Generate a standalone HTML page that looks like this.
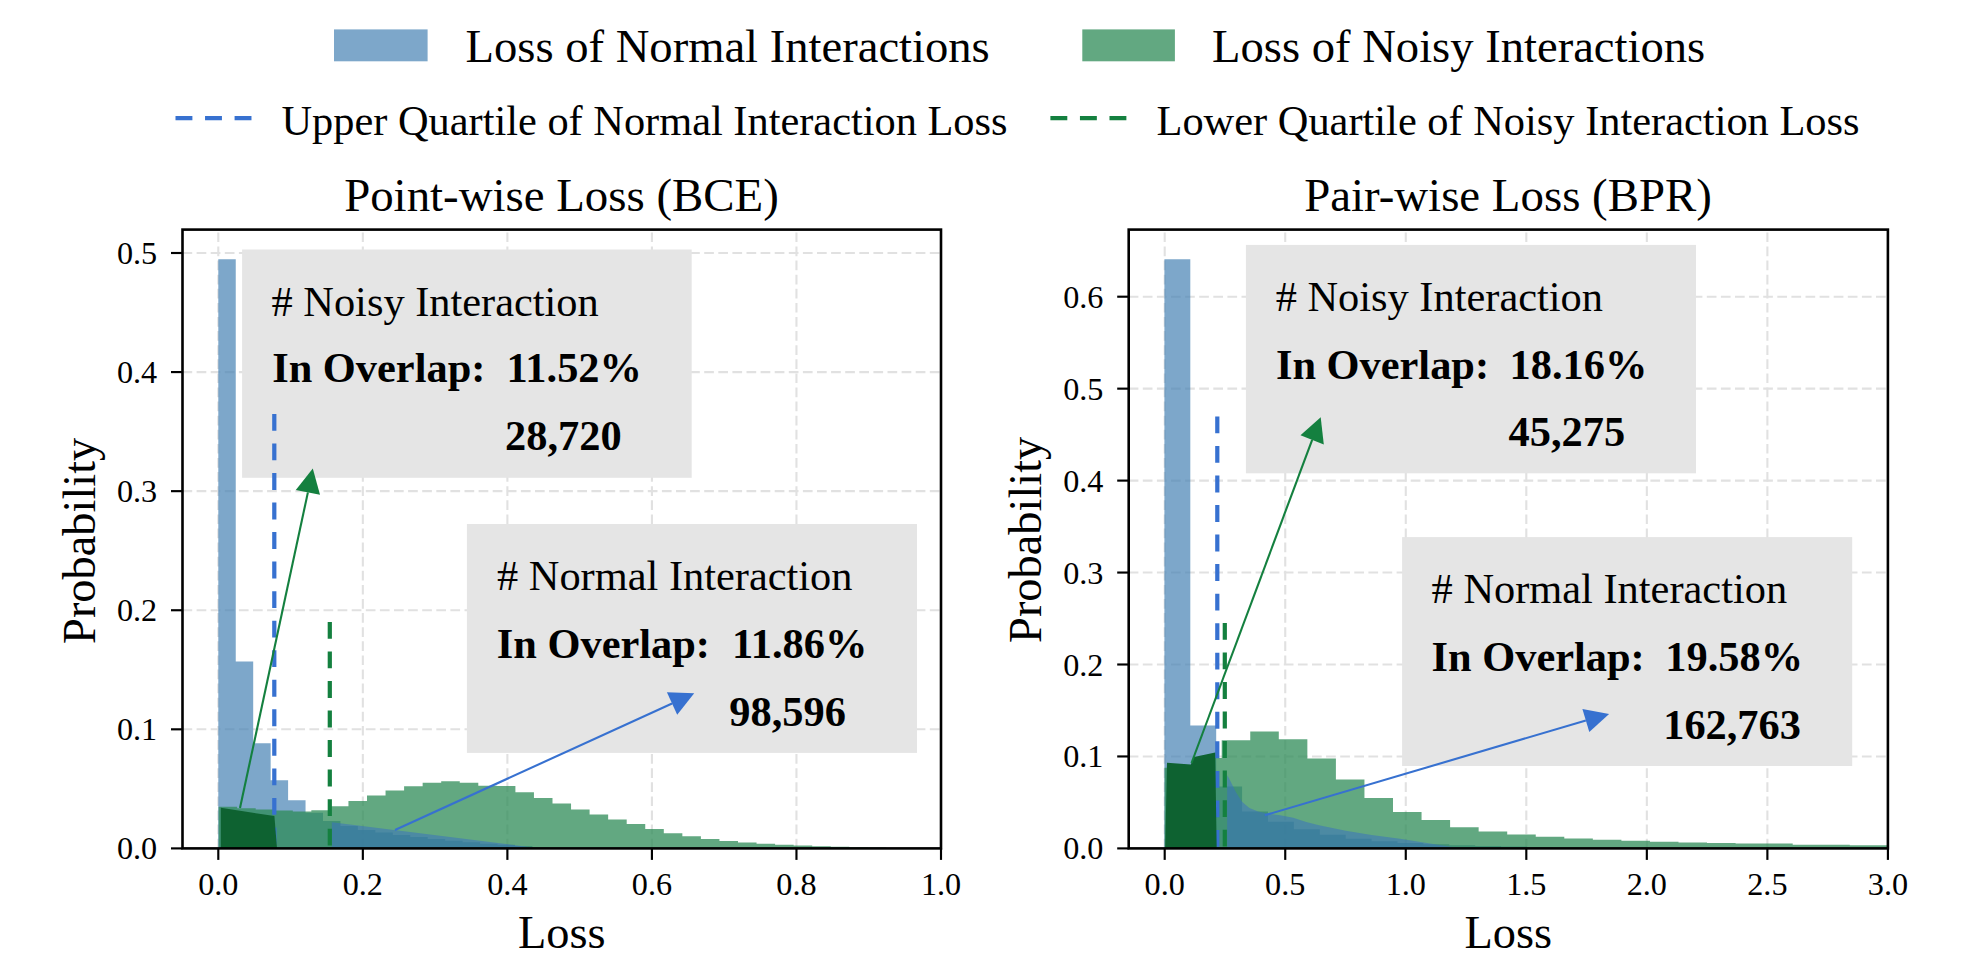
<!DOCTYPE html>
<html lang="en"><head><meta charset="utf-8"><title>Loss distribution of normal and noisy interactions</title>
<style>
html,body{margin:0;padding:0;background:#fff}
svg{display:block}
</style></head><body>
<svg width="1972" height="972" viewBox="0 0 1972 972">
<rect width="1972" height="972" fill="#fff"/>

<g font-family='"Liberation Serif", serif' fill="#000">
<rect x="334" y="29.4" width="93.6" height="31.9" fill="#4682b4" fill-opacity="0.7"/>
<text x="465.5" y="61.7" font-size="46.62">Loss of Normal Interactions</text>
<rect x="1082.3" y="29.4" width="92.6" height="31.9" fill="#2e8b57" fill-opacity="0.75"/>
<text x="1212" y="61.7" font-size="46.62">Loss of Noisy Interactions</text>
<path d="M175.5 118.2H252" stroke="#3771d0" stroke-width="4.22" stroke-dasharray="16.9 12.64" fill="none"/>
<text x="281.5" y="134.8" font-size="42.38">Upper Quartile of Normal Interaction Loss</text>
<path d="M1050.4 118.2H1127.2" stroke="#14803f" stroke-width="4.22" stroke-dasharray="16.9 12.64" fill="none"/>
<text x="1156.5" y="134.8" font-size="42.42">Lower Quartile of Noisy Interaction Loss</text>
</g>
<defs>
<clipPath id="cl"><rect x="182.5" y="229.6" width="758.5" height="618.8"/></clipPath>
<clipPath id="cr"><rect x="1128.7" y="229.6" width="759.2" height="618.8"/></clipPath>
</defs>
<g clip-path="url(#cl)">
<g stroke="#e1e1e1" stroke-width="2.1" stroke-dasharray="9.7 4.4" fill="none"><path d="M218.3 848.4V229.6"/><path d="M362.84 848.4V229.6"/><path d="M507.38 848.4V229.6"/><path d="M651.92 848.4V229.6"/><path d="M796.46 848.4V229.6"/><path d="M182.5 729.32H941"/><path d="M182.5 610.24H941"/><path d="M182.5 491.16H941"/><path d="M182.5 372.08H941"/><path d="M182.5 253H941"/></g>
<path d="M218.3 848.4V259.19H235.75V661.44H253.2V743.25H270.65V780.17H288.1V800.29H305.55V812.68H323V821.01H340.45V826.01H357.9V829.94H375.35V832.44H392.8V834.94H410.25V836.97H427.7V838.99H445.15V840.66H462.6V842.21H480.05V843.64H497.5V844.83H514.95V846.02H532.4V846.97H549.85V847.69H567.3V848.4Z" fill="#4682b4" fill-opacity="0.7"/>
<path d="M218.6 848.4V806.7H237.15V808.2H255.7V809.6H274.25V810.6H292.8V811.4H311.35V810.2H329.9V806.3H348.45V800.9H367V795.5H385.55V790.4H404.1V786.3H422.65V782.7H441.2V781.3H459.75V782.7H478.3V785.8H496.85V786.1H515.4V792.2H533.95V798H552.5V803.6H571.05V809.4H589.6V814.5H608.15V819.6H626.7V823.9H645.25V829H663.8V833.3H682.35V836.3H700.9V838.9H719.45V840.9H738V842.4H756.55V843.7H775.1V844.7H793.65V845.5H812.2V846.2H830.75V846.8H849.3V847.2H867.85V847.6H886.4V848.4Z" fill="#2e8b57" fill-opacity="0.75"/>
<path d="M331.9 848.4V822.2L540 848.4Z" fill="#3a71c0" fill-opacity="0.55"/>
<rect x="242.1" y="249.5" width="449.6" height="228.3" fill="#e5e5e5"/>
<rect x="466.9" y="524" width="450.1" height="228.9" fill="#e5e5e5"/>
<path d="M274.3 413.9V848.4" stroke="#3771d0" stroke-width="4.22" stroke-dasharray="16.9 12.64" fill="none"/>
<path d="M329.8 621.9V848.4" stroke="#14803f" stroke-width="4.22" stroke-dasharray="16.9 12.64" fill="none"/>
<path d="M220.8 848.4V807.8L274.4 816L277 848.4Z" fill="#0e6231"/>
</g>
<path d="M240 808L307.9 492.35" stroke="#14803f" stroke-width="2.1" fill="none"/><path d="M312.8 468.4L295.8 490L320 494.7Z" fill="#14803f"/>
<path d="M395 830L672.05 703.5" stroke="#3771d0" stroke-width="2.1" fill="none"/><path d="M694.2 693.2L666.9 692.2L677.2 714.8Z" fill="#3771d0"/>
<g font-family='"Liberation Serif", serif' font-size="42.4" fill="#000"><text x="271.5" y="316.3"># Noisy Interaction</text><text x="272.2" y="382" font-weight="bold">In Overlap:</text><text x="506.5" y="382" font-weight="bold">11.52%</text><text x="505" y="450.2" font-weight="bold">28,720</text><text x="497" y="590.1"># Normal Interaction</text><text x="496.8" y="658.3" font-weight="bold">In Overlap:</text><text x="731.9" y="658.3" font-weight="bold">11.86%</text><text x="729.3" y="726.2" font-weight="bold">98,596</text></g>
<g stroke="#000" stroke-width="2.6" fill="none" stroke-linecap="square"><rect x="182.5" y="229.6" width="758.5" height="618.8"/></g><g stroke="#000" stroke-width="2.15" fill="none"><path d="M218.3 848.4v11.5"/><path d="M362.84 848.4v11.5"/><path d="M507.38 848.4v11.5"/><path d="M651.92 848.4v11.5"/><path d="M796.46 848.4v11.5"/><path d="M941 848.4v11.5"/><path d="M182.5 848.4h-11.5"/><path d="M182.5 729.32h-11.5"/><path d="M182.5 610.24h-11.5"/><path d="M182.5 491.16h-11.5"/><path d="M182.5 372.08h-11.5"/><path d="M182.5 253h-11.5"/></g><g font-family='"Liberation Serif", serif' font-size="32.2" fill="#000"><text x="218.3" y="894.9" text-anchor="middle">0.0</text><text x="362.84" y="894.9" text-anchor="middle">0.2</text><text x="507.38" y="894.9" text-anchor="middle">0.4</text><text x="651.92" y="894.9" text-anchor="middle">0.6</text><text x="796.46" y="894.9" text-anchor="middle">0.8</text><text x="941" y="894.9" text-anchor="middle">1.0</text><text x="157.2" y="859.4" text-anchor="end">0.0</text><text x="157.2" y="740.32" text-anchor="end">0.1</text><text x="157.2" y="621.24" text-anchor="end">0.2</text><text x="157.2" y="502.16" text-anchor="end">0.3</text><text x="157.2" y="383.08" text-anchor="end">0.4</text><text x="157.2" y="264" text-anchor="end">0.5</text></g><g font-family='"Liberation Serif", serif' font-size="46.4" fill="#000" text-anchor="middle"><text x="561.45" y="210.9" font-size="46.85">Point-wise Loss (BCE)</text><text x="561.75" y="947.8">Loss</text><text transform="translate(94.5 540.8) rotate(-90)">Probability</text></g>
<g clip-path="url(#cr)">
<g stroke="#e1e1e1" stroke-width="2.1" stroke-dasharray="9.7 4.4" fill="none"><path d="M1164.7 848.4V229.6"/><path d="M1285.24 848.4V229.6"/><path d="M1405.77 848.4V229.6"/><path d="M1526.31 848.4V229.6"/><path d="M1646.84 848.4V229.6"/><path d="M1767.38 848.4V229.6"/><path d="M1128.7 756.45H1887.9"/><path d="M1128.7 664.5H1887.9"/><path d="M1128.7 572.55H1887.9"/><path d="M1128.7 480.6H1887.9"/><path d="M1128.7 388.65H1887.9"/><path d="M1128.7 296.7H1887.9"/></g>
<path d="M1164.4 848.4V259.18H1190.3V725.55H1216.2V786.52H1242.1V811.62H1268V821.73H1293.9V829.27H1319.8V834.7H1345.7V838.75H1371.6V841.23H1397.5V843.07H1423.4V844.35H1449.3V845.27H1475.2V846.01H1501.1V846.56H1527V847.02H1552.9V847.39H1578.8V847.66H1604.7V847.85H1630.6V848.03H1656.5V848.4Z" fill="#4682b4" fill-opacity="0.7"/>
<path d="M1164.6 848.4V767.67H1193.15V758.01H1221.7V740.27H1250.25V731.44H1278.8V739.16H1307.35V758.38H1335.9V779.62H1364.45V798.01H1393V811.99H1421.55V820.08H1450.1V827.16H1478.65V831.48H1507.2V834.52H1535.75V836.81H1564.3V838.56H1592.85V839.85H1621.4V840.86H1649.95V841.87H1678.5V842.52H1707.05V843.07H1735.6V843.43H1764.15V843.62H1792.7V844.63H1821.25V844.63H1849.8V845.27H1878.35V845.27H1906.9V848.4Z" fill="#2e8b57" fill-opacity="0.75"/>
<path d="M1227.2 848.4L1227.2 775.2L1229 778.3L1235.8 791.9L1242 801.7L1249.4 807.9L1258 811.4L1267.3 813.5L1280.2 815.3L1293.2 817.8L1306.2 822.1L1319.1 825.2L1345.7 830.7L1371.6 835.1L1400 838.8L1430 843.5L1462 848.4Z" fill="#3a71c0" fill-opacity="0.55"/>
<rect x="1245.9" y="244.9" width="450.1" height="228.4" fill="#e5e5e5"/>
<rect x="1402.1" y="537.1" width="450.1" height="228.9" fill="#e5e5e5"/>
<path d="M1217.3 416.4V848.4" stroke="#3771d0" stroke-width="4.22" stroke-dasharray="16.9 12.64" fill="none"/>
<path d="M1224.8 622.9V848.4" stroke="#14803f" stroke-width="4.22" stroke-dasharray="16.9 12.64" fill="none"/>
<path d="M1165.2 848.4L1167 762.7L1190.8 764.5L1194 756.9L1215.2 752.6L1216.7 848.4Z" fill="#0e6231"/>
</g>
<path d="M1191.5 763L1312.15 439.85" stroke="#14803f" stroke-width="2.1" fill="none"/><path d="M1320.7 417.3L1300.5 435.2L1323.8 444.5Z" fill="#14803f"/>
<path d="M1264.8 815.3L1585.85 720.45" stroke="#3771d0" stroke-width="2.1" fill="none"/><path d="M1609.1 714L1582.4 708.9L1589.3 732Z" fill="#3771d0"/>
<g font-family='"Liberation Serif", serif' font-size="42.4" fill="#000"><text x="1275.7" y="311"># Noisy Interaction</text><text x="1275.9" y="378.9" font-weight="bold">In Overlap:</text><text x="1509.5" y="378.9" font-weight="bold">18.16%</text><text x="1508.6" y="446" font-weight="bold">45,275</text><text x="1431.6" y="602.8"># Normal Interaction</text><text x="1431.6" y="671.2" font-weight="bold">In Overlap:</text><text x="1665.3" y="671.2" font-weight="bold">19.58%</text><text x="1663.2" y="739.1" font-weight="bold">162,763</text></g>
<g stroke="#000" stroke-width="2.6" fill="none" stroke-linecap="square"><rect x="1128.7" y="229.6" width="759.2" height="618.8"/></g><g stroke="#000" stroke-width="2.15" fill="none"><path d="M1164.7 848.4v11.5"/><path d="M1285.24 848.4v11.5"/><path d="M1405.77 848.4v11.5"/><path d="M1526.31 848.4v11.5"/><path d="M1646.84 848.4v11.5"/><path d="M1767.38 848.4v11.5"/><path d="M1887.91 848.4v11.5"/><path d="M1128.7 848.4h-11.5"/><path d="M1128.7 756.45h-11.5"/><path d="M1128.7 664.5h-11.5"/><path d="M1128.7 572.55h-11.5"/><path d="M1128.7 480.6h-11.5"/><path d="M1128.7 388.65h-11.5"/><path d="M1128.7 296.7h-11.5"/></g><g font-family='"Liberation Serif", serif' font-size="32.2" fill="#000"><text x="1164.7" y="894.9" text-anchor="middle">0.0</text><text x="1285.24" y="894.9" text-anchor="middle">0.5</text><text x="1405.77" y="894.9" text-anchor="middle">1.0</text><text x="1526.31" y="894.9" text-anchor="middle">1.5</text><text x="1646.84" y="894.9" text-anchor="middle">2.0</text><text x="1767.38" y="894.9" text-anchor="middle">2.5</text><text x="1887.91" y="894.9" text-anchor="middle">3.0</text><text x="1103.4" y="859.4" text-anchor="end">0.0</text><text x="1103.4" y="767.45" text-anchor="end">0.1</text><text x="1103.4" y="675.5" text-anchor="end">0.2</text><text x="1103.4" y="583.55" text-anchor="end">0.3</text><text x="1103.4" y="491.6" text-anchor="end">0.4</text><text x="1103.4" y="399.65" text-anchor="end">0.5</text><text x="1103.4" y="307.7" text-anchor="end">0.6</text></g><g font-family='"Liberation Serif", serif' font-size="46.4" fill="#000" text-anchor="middle"><text x="1508" y="210.9" font-size="46.85">Pair-wise Loss (BPR)</text><text x="1508.3" y="947.8">Loss</text><text transform="translate(1040.7 539.8) rotate(-90)">Probability</text></g>
</svg>
</body></html>
